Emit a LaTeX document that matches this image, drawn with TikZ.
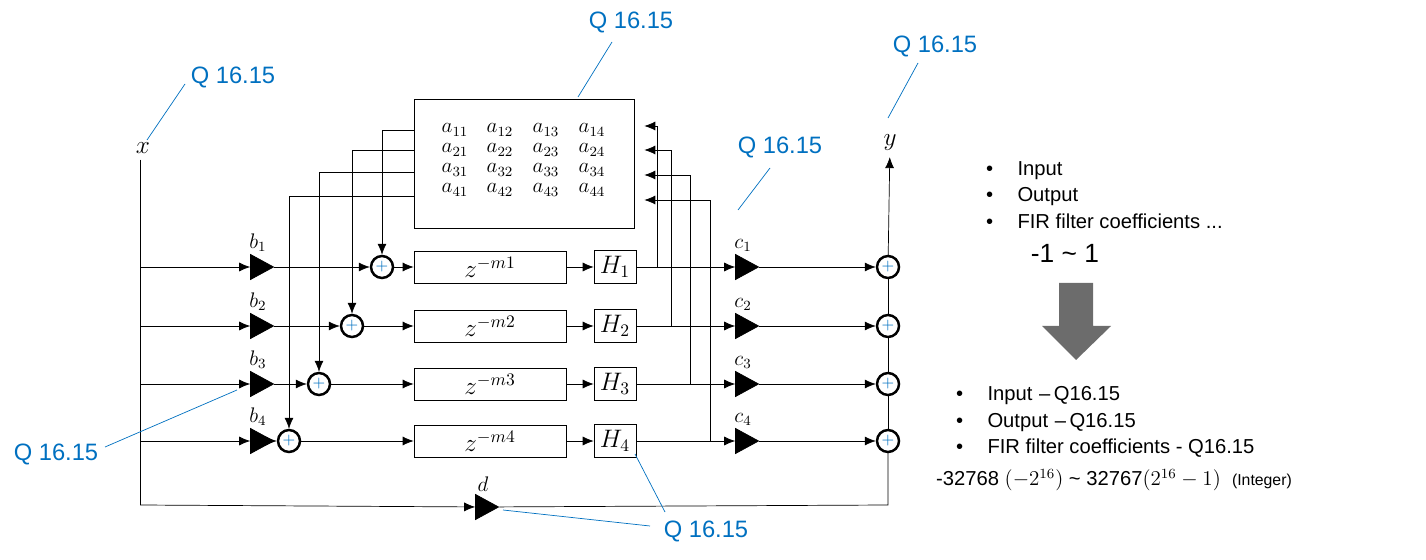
\documentclass[tikz,border=0pt]{standalone}
\usepackage{fontspec}
\setmainfont{Liberation Sans}
\usepackage{amsmath}
\usepackage{tikz}
\usetikzlibrary{arrows.meta}
\usetikzlibrary{shapes.geometric}
\definecolor{qblue}{HTML}{0070C0}
\tikzset{
  gain/.style={draw,fill=black,isosceles triangle,isosceles triangle stretches,minimum width=0.5cm,minimum height=0.46cm,inner sep=0pt},
  sum/.style={draw,circle,line width=1.4pt,minimum size=0.44cm,inner sep=0pt,font=\small,text=qblue},
  dly/.style={draw,rectangle,minimum width=3.04cm,minimum height=0.64cm,font=\Large},
  hbox/.style={draw,rectangle,minimum width=0.7cm,minimum height=0.64cm,font=\Large},
  qlab/.style={text=qblue,font=\fontsize{13.5}{16}\selectfont},
  qline/.style={draw=qblue,thin},
  sig/.style={-{Latex[length=2.2mm,width=1.8mm]}},
}
\begin{document}
\begin{tikzpicture}[x=0.02cm,y=-0.02cm]
            \useasboundingbox (0,0) rectangle (1426,560);
            % coefficient matrix
            \node[draw,minimum width=4.4cm,minimum height=2.58cm] (mat) at (524,163.5) {};
            \foreach \r/\ry in {1/130,2/150,3/170,4/190}
              \foreach \c/\cx in {1/455,2/500,3/546,4/592}
                \node[font=\large,inner sep=0pt] (a\r\c) at (\cx,\ry) {$a_{\r\c}$};

            \node[font=\Large] (x) at (143,148) {$x$};
            \node[font=\Large] (y) at (890,143) {$y$};
            \coordinate (xc) at (140,505);
            \node[gain,label={[font=\large]above:$d$}] (d) at (483,507) {};
            \coordinate (dc) at (888,505);

            \foreach \i/\y/\sx/\my/\fx/\fy in {1/267/382/130/657/126, 2/326/352/150/671/150, 3/384/319/172/690/175, 4/441/289/196/710/200}{
              \node[gain,label={[font=\large]above:$b_\i$}] (b\i) at (258,\y) {};
              \node[sum] (s\i) at (\sx,\y) {$+$};
              \node[dly] (z\i) at (490,\y) {$z^{-m\i}$};
              \node[hbox] (h\i) at (615,\y) {$H_\i$};
              \node[gain,label={[font=\large]above:$c_\i$}] (c\i) at (743,\y) {};
              \node[sum] (o\i) at (888,\y) {$+$};
              \coordinate (xb\i) at (140,\y);
              \coordinate (f\i) at (\fx,\y);
              \draw[sig] (xb\i) -- (b\i);
              \draw[sig] (b\i) -- (s\i);
              \draw[sig] (s\i) -- (z\i);
              \draw[sig] (z\i) -- (h\i);
              \draw[sig] (h\i) -- (c\i);
              \draw[sig] (c\i) -- (o\i);
              \draw[sig] (mat.west |- 0,\my) -| (s\i);
              \draw[sig,shorten >=0.2cm] (f\i) |- (mat.east |- 0,\fy);
            }

            \draw (x.south) ++(-3,0) -- (xc);
            \draw[sig] (xc) -- (d);
            \draw (d) -- (dc) -- (o4);
            \draw (o4) -- (o3);
            \draw (o3) -- (o2);
            \draw (o2) -- (o1);
            \draw[sig] (o1) -- (y);

            % fixed point notes
            \node[qlab] (q1) at (233,77) {Q 16.15};
            \node[qlab] (q2) at (631,22) {Q 16.15};
            \node[qlab] (q3) at (935,46) {Q 16.15};
            \node[qlab] (q4) at (780,147) {Q 16.15};
            \node[qlab] (q5) at (56,454) {Q 16.15};
            \node[qlab] (q6) at (706,531) {Q 16.15};
            \coordinate (p1) at (147,140);
            \coordinate (p2) at (578,97);
            \coordinate (p3) at (888,118);
            \coordinate (p4) at (738,210);
            \coordinate (p5) at (237,390);
            \coordinate (p6) at (635,454);
            \coordinate (p7) at (503,510);
            \draw[qline] (185,84) -- (p1);
            \draw[qline] (612,42) -- (p2);
            \draw[qline] (918,63) -- (p3);
            \draw[qline] (770,168) -- (p4);
            \draw[qline] (105,447) -- (p5);
            \draw[qline] (665,512) -- (p6);
            \draw[qline] (650,526) -- (p7);

            % range notes
            \node[anchor=west,font=\fontsize{11.5}{14}\selectfont,align=left] (l1) at (980,195)
              {\textbullet\hspace{1.2em}Input\\[1pt] \textbullet\hspace{1.2em}Output\\[1pt] \textbullet\hspace{1.2em}FIR filter coefficients ...};
            \node[font=\fontsize{15}{18}\selectfont] (r1) at (1065,253) {-1 \textasciitilde{} 1};
            \draw[fill=gray!85!black,draw=none] (1059,283) -- (1093,283) -- (1093,326) -- (1111,326) -- (1076,360) -- (1042,326) -- (1059,326) -- cycle;
            \node[anchor=west,font=\fontsize{11.5}{14}\selectfont,align=left] (l2) at (950,422)
              {\textbullet\hspace{1.2em}Input\,\,--\,Q16.15\\[1pt] \textbullet\hspace{1.2em}Output\,\,--\,Q16.15\\[1pt] \textbullet\hspace{1.2em}FIR filter coefficients - Q16.15};
            \node[anchor=west,font=\fontsize{11.5}{14}\selectfont] (r2) at (930,480)
              {-32768 $(-2^{16})$ \textasciitilde{} 32767$(2^{16}-1)$\ \ {\small(Integer)}};
\end{tikzpicture}
\end{document}
